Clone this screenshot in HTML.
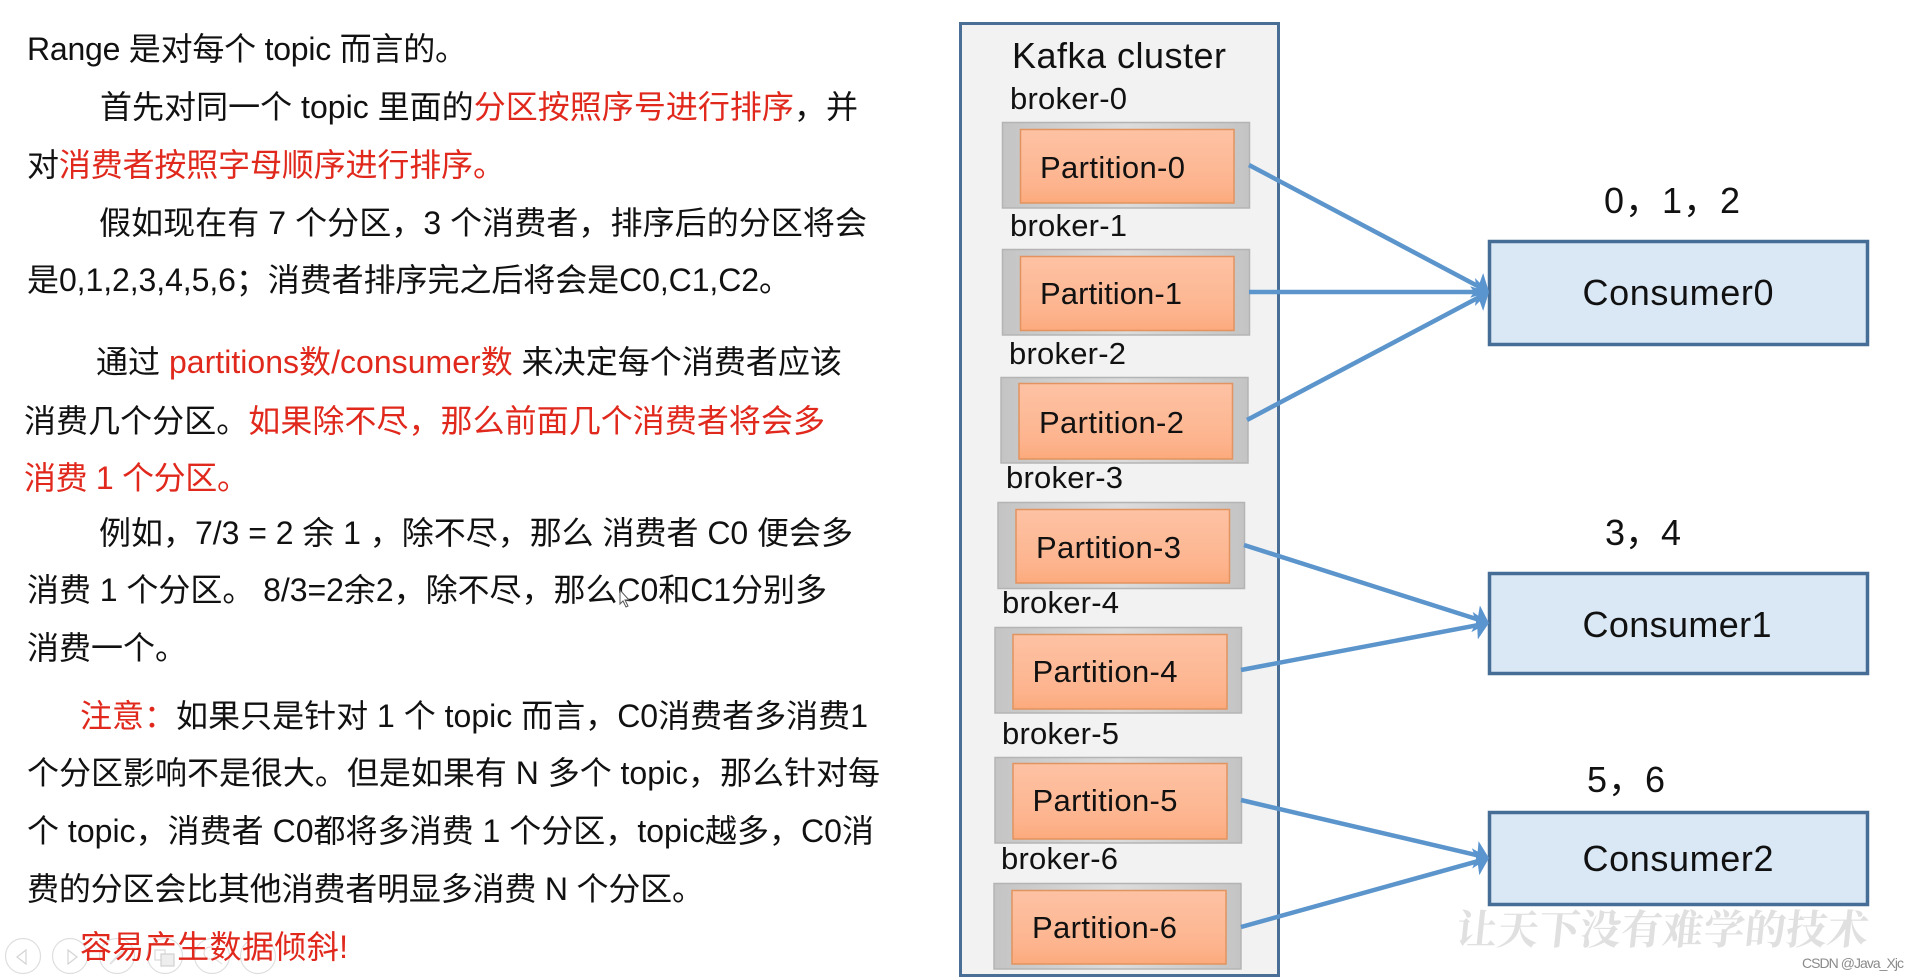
<!DOCTYPE html>
<html lang="zh-CN">
<head>
<meta charset="utf-8">
<title>Kafka Range</title>
<style>
html,body{margin:0;padding:0;background:#fff;width:1920px;height:980px;overflow:hidden}
svg{display:block;position:absolute;left:0;top:0}
text{font-family:"Liberation Sans","Noto Sans CJK SC",sans-serif;fill:#111;white-space:pre}
.t{font-size:32px}
.r{fill:#e0281c}
.b{font-size:31px}
.p{font-size:31px}
.c{font-size:36px}
</style>
</head>
<body>
<svg width="1920" height="980" viewBox="0 0 1920 980" xmlns="http://www.w3.org/2000/svg">
<defs>
<linearGradient id="or" x1="0" y1="0" x2="0" y2="1"><stop offset="0" stop-color="#fdc2a4"/><stop offset=".75" stop-color="#fdb48e"/><stop offset="1" stop-color="#fcaa7c"/></linearGradient>
<linearGradient id="gr" x1="0" y1="0" x2="1" y2="0"><stop offset="0" stop-color="#c4c4c4"/><stop offset=".5" stop-color="#dcdcdc"/><stop offset="1" stop-color="#c4c4c4"/></linearGradient>
<marker id="ah" markerUnits="userSpaceOnUse" markerWidth="16" markerHeight="30" refX="7" refY="15" orient="auto"><path d="M0 1L14 15L0 29L2 15Z" fill="#5b95d0"/></marker>
</defs>

<!-- left text -->
<text class="t" x="27" y="60" textLength="440">Range 是对每个 topic 而言的。</text>
<text class="t" x="100" y="118" textLength="758">首先对同一个 topic 里面的<tspan class="r">分区按照序号进行排序</tspan>，并</text>
<text class="t" x="27" y="176" textLength="478">对<tspan class="r">消费者按照字母顺序进行排序。</tspan></text>
<text class="t" x="99" y="234" textLength="768">假如现在有 7 个分区，3 个消费者，排序后的分区将会</text>
<text class="t" x="27" y="291" textLength="764">是0,1,2,3,4,5,6；消费者排序完之后将会是C0,C1,C2。</text>
<text class="t" x="96" y="373" textLength="746">通过 <tspan class="r">partitions数/consumer数</tspan> 来决定每个消费者应该</text>
<text class="t" x="24" y="432" textLength="801">消费几个分区。<tspan class="r">如果除不尽，那么前面几个消费者将会多</tspan></text>
<text class="t r" x="24" y="489" textLength="225">消费 1 个分区。</text>
<text class="t" x="99" y="544" textLength="754">例如，7/3 = 2 余 1 ，除不尽，那么 消费者 C0 便会多</text>
<text class="t" x="27" y="601" textLength="800">消费 1 个分区。 8/3=2余2，除不尽，那么C0和C1分别多</text>
<text class="t" x="27" y="659">消费一个。</text>
<text class="t" x="80" y="727" textLength="788"><tspan class="r">注意：</tspan>如果只是针对 1 个 topic 而言，C0消费者多消费1</text>
<text class="t" x="27" y="784" textLength="853">个分区影响不是很大。但是如果有 N 多个 topic，那么针对每</text>
<text class="t" x="27" y="842" textLength="847">个 topic，消费者 C0都将多消费 1 个分区，topic越多，C0消</text>
<text class="t" x="27" y="900" textLength="677">费的分区会比其他消费者明显多消费 N 个分区。</text>

<!-- player controls -->
<g fill="none" stroke="#dedede" stroke-width="1.2">
<circle cx="23" cy="956" r="17.5"/><circle cx="70" cy="956" r="17.5"/><circle cx="117" cy="956" r="17.5"/><circle cx="165" cy="956" r="17.500"/><circle cx="212" cy="956" r="17.500"/><circle cx="258" cy="956" r="17.500"/>
<path d="M26 950L17 957L26 964ZM68 950L77 957L68 964Z" stroke="#d4d4d4"/>
<path d="M110 964L124 950" stroke="#e2e2e2" stroke-width="2"/>
<rect x="155" y="950" width="10" height="10" stroke="#d8d8d8"/>
<rect x="161" y="954" width="13" height="12" stroke="#d0d0d0" fill="#eee"/>
<circle cx="210" cy="953" r="6" stroke="#e8d8d8"/><path d="M214 958L222 964" stroke="#e2e2e2"/>
</g>
<text class="t r" x="80" y="958" textLength="268">容易产生数据倾斜!</text>
<!-- cursor -->
<path d="M620 590L620 604L623 601L626 607L628 606L625 600L629 600Z" fill="#fff" stroke="#555" stroke-width="1"/>

<!-- cluster -->
<rect x="960.5" y="23.5" width="318" height="952" fill="#f2f2f2" stroke="#4a6f96" stroke-width="3"/>
<text x="1012" y="68" style="font-size:36px" textLength="214">Kafka cluster</text>

<text class="b" x="1010" y="109" textLength="117">broker-0</text>
<text class="b" x="1010" y="236" textLength="117">broker-1</text>
<text class="b" x="1009" y="364" textLength="117">broker-2</text>
<text class="b" x="1006" y="488" textLength="117">broker-3</text>
<text class="b" x="1002" y="613" textLength="117">broker-4</text>
<text class="b" x="1002" y="744" textLength="117">broker-5</text>
<text class="b" x="1001" y="869" textLength="117">broker-6</text>

<g stroke="#b4b4b4" stroke-width="1.5" fill="url(#gr)">
<rect x="1002.5" y="122.5" width="247" height="85.5"/>
<rect x="1002.5" y="249.5" width="247" height="85.5"/>
<rect x="1001" y="377.5" width="247" height="85.5"/>
<rect x="998" y="502.5" width="246.5" height="86"/>
<rect x="995" y="627.5" width="246.5" height="85.5"/>
<rect x="995" y="757.5" width="246.5" height="85.5"/>
<rect x="994" y="883.5" width="247" height="85.5"/>
</g>
<g stroke="#e2935f" stroke-width="1.5" fill="url(#or)">
<rect x="1020.5" y="129.5" width="213.5" height="73.5"/>
<rect x="1020.5" y="256.5" width="213.5" height="74"/>
<rect x="1019" y="383.5" width="213.5" height="75.5"/>
<rect x="1016" y="509.5" width="213.5" height="73.5"/>
<rect x="1013" y="634.5" width="214" height="74.5"/>
<rect x="1013" y="763.5" width="214" height="75.5"/>
<rect x="1012" y="890.5" width="214" height="73.5"/>
</g>
<text class="p" x="1040" y="178" textLength="145">Partition-0</text>
<text class="p" x="1040" y="304" textLength="142">Partition-1</text>
<text class="p" x="1039" y="433" textLength="145">Partition-2</text>
<text class="p" x="1036" y="558" textLength="145">Partition-3</text>
<text class="p" x="1032.5" y="682" textLength="145">Partition-4</text>
<text class="p" x="1032.5" y="811" textLength="145">Partition-5</text>
<text class="p" x="1032" y="938" textLength="145">Partition-6</text>

<!-- consumers -->
<g fill="#dae8f6" stroke="#466d96" stroke-width="3.5">
<rect x="1489.5" y="241.5" width="378" height="103"/>
<rect x="1489.5" y="573.5" width="378" height="100"/>
<rect x="1489.5" y="812.5" width="378" height="92"/>
</g>
<text class="c" x="1582.5" y="305" textLength="191">Consumer0</text>
<text class="c" x="1582.5" y="637" textLength="189">Consumer1</text>
<text class="c" x="1582.5" y="871" textLength="191">Consumer2</text>

<text class="c" x="1604" y="213" textLength="136">0，1，2</text>
<text class="c" x="1605" y="545" textLength="76">3，4</text>
<text class="c" x="1587" y="792" textLength="78">5，6</text>

<!-- connectors -->
<g stroke="#5b95cc" stroke-width="4.5" fill="none">
<line x1="1249" y1="165" x2="1482.8" y2="288.7" marker-end="url(#ah)"/>
<line x1="1249" y1="292" x2="1482" y2="292" marker-end="url(#ah)"/>
<line x1="1247" y1="420" x2="1482.8" y2="295.3" marker-end="url(#ah)"/>
<line x1="1244" y1="545" x2="1482.3" y2="620.9" marker-end="url(#ah)"/>
<line x1="1241" y1="670" x2="1482.1" y2="624.3" marker-end="url(#ah)"/>
<line x1="1241" y1="800" x2="1482.2" y2="856.4" marker-end="url(#ah)"/>
<line x1="1241" y1="927" x2="1482.3" y2="859.9" marker-end="url(#ah)"/>
</g>

<!-- watermark -->
<text transform="translate(1452 944) skewX(-6)" x="3" y="0" style="font-size:41px;font-family:'Liberation Serif','Noto Serif CJK SC',serif;font-weight:700;fill:#e0e0e0" textLength="412">让天下没有难学的技术</text>
<text x="1802" y="968" style="font-size:14px;fill:#8a8a8a" textLength="102">CSDN @Java_Xjc</text>
</svg>
</body>
</html>
